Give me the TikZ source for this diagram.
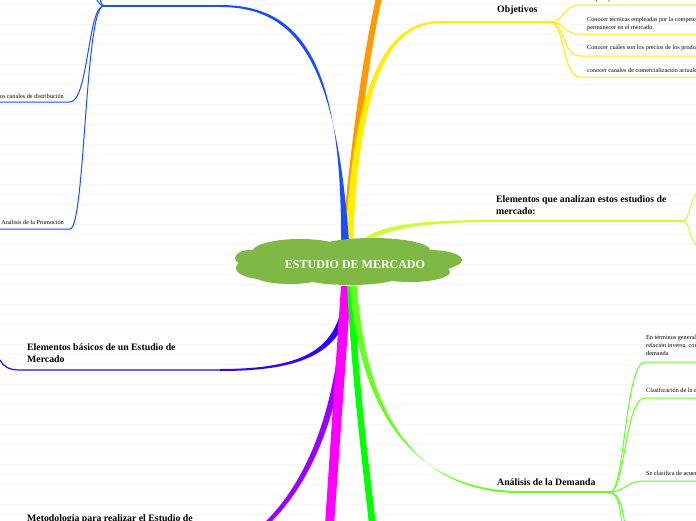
\documentclass[tikz,border=0pt]{standalone}
\usepackage{fontspec}
\setmainfont{Liberation Serif}
\definecolor{cloudc}{HTML}{7FB845}
\definecolor{orn}{HTML}{FF9900}
\definecolor{yel}{HTML}{FFEE00}
\definecolor{blu}{HTML}{1A4DFF}
\definecolor{lim}{HTML}{CCFF33}
\definecolor{bvi}{HTML}{3300FF}
\definecolor{pur}{HTML}{9900FF}
\definecolor{mag}{HTML}{FF00FF}
\definecolor{grn}{HTML}{00FF00}
\definecolor{lgr}{HTML}{66FF22}
\begin{document}
\begin{tikzpicture}[x=1pt,y=-1pt,
  big/.style={font=\bfseries\fontsize{9.8}{12}\selectfont,anchor=west,align=left,inner sep=0pt},
  small/.style={font=\fontsize{6.2}{8}\selectfont,anchor=west,align=left,inner sep=0pt},
  sub/.style={line width=1pt}]
\useasboundingbox (0,0) rectangle (696,520);
\clip (0,0) rectangle (696,520);
\fill[white] (0,0) rectangle (696,520);
\foreach \y in {4,14,...,520} \draw[black!3,line width=0.5pt] (0,\y) -- (696,\y);
% coordinates
\coordinate (yj) at (550,22);
\coordinate (bj) at (103,6);
\coordinate (gj) at (610,492);
\coordinate (lj) at (683,221);
% main tapered branches
\fill[orn] (342,242) .. controls (350,150) and (362,60) .. (376,-2) -- (382,-2) .. controls (368,60) and (357,150) .. (351,242) -- cycle;
\fill[yel] (345,242) .. controls (352,120) and (372,21) .. (440,21) -- (440,23) .. controls (376,23) and (358,120) .. (353,242) -- cycle;
\draw[yel,line width=1.5pt] (440,22) -- (yj);
\fill[blu] (341,242) .. controls (342,60) and (300,5) .. (220,5) -- (220,7) .. controls (296,7) and (336,60) .. (349,242) -- cycle;
\draw[blu,line width=1.5pt] (220,6) -- (bj);
\fill[lim] (362,240) .. controls (380,225) and (420,220) .. (490,220) -- (490,222) .. controls (420,222) and (385,230) .. (366,242) -- cycle;
\draw[lim,line width=1.5pt] (490,221) -- (lj);
\fill[bvi] (345,286) .. controls (340,340) and (320,369) .. (220,369) -- (220,371) .. controls (318,371) and (348,345) .. (353,286) -- cycle;
\draw[bvi,line width=1.2pt] (220,370) -- (20,370) .. controls (8,370) and (3,366) .. (0,360);
\fill[pur] (343,286) .. controls (340,400) and (310,480) .. (262,525) -- (268,525) .. controls (315,480) and (347,400) .. (350,286) -- cycle;
\fill[mag] (341,286) -- (351,286) -- (334,525) -- (325,525) -- cycle;
\fill[grn] (347,286) .. controls (352,380) and (362,460) .. (369,525) -- (376,525) .. controls (368,460) and (358,380) .. (354,286) -- cycle;
\fill[lgr] (350,286) .. controls (360,420) and (420,491) .. (520,491) -- (520,493) .. controls (420,493) and (366,420) .. (357,286) -- cycle;
\draw[lgr,line width=1.5pt] (520,492) -- (gj);
% cloud
\begin{scope}[fill=cloudc]
\fill (348,264) ellipse (108 and 13);
\fill (300,252) ellipse (48 and 13);
\fill (372,250) ellipse (58 and 12);
\fill (262,268) ellipse (26 and 11);
\fill (290,274) ellipse (38 and 10);
\fill (350,276) ellipse (50 and 9);
\fill (410,272) ellipse (40 and 10);
\fill (430,260) ellipse (32 and 10);
\fill (250,258) ellipse (15 and 8);
\end{scope}
\node[font=\bfseries\fontsize{12}{14}\selectfont,text=white] (root) at (355,265) {ESTUDIO DE MERCADO};
% labels
\node[big] (obj) at (497,10) {Objetivos};
\node[big] (ela) at (496,205) {Elementos que analizan estos estudios de\\mercado:};
\node[big] (ad) at (497,482) {Análisis de la Demanda};
\node[big] (eb) at (27,353) {Elementos básicos de un Estudio de\\Mercado};
\node[big] (met) at (27,519) {Metodologia para realizar el Estudio de};
% yellow subs
\foreach \yy in {5,34,56,77} \draw[yel,sub] (yj) .. controls (565,22) and (562,\yy) .. (580,\yy) -- (700,\yy);
\node[small] at (587,-1) {adoptan por los consumidores};
\node[small] (s1) at (587,24) {Conocer técnicas empleadas por la competencia para\\permanecer en el mercado.};
\node[small] (s2) at (587,48) {Conocer cuáles son los precios de los productos};
\node[small] (s3) at (587,70) {conocer canales de comercialización actuales};
% blue subs
\draw[blu,sub] (bj) .. controls (88,8) and (88,102) .. (70,102) -- (-5,102);
\draw[blu,sub] (bj) .. controls (85,10) and (85,229) .. (70,229) -- (-5,229);
\draw[blu,sub] (bj) .. controls (98,4) and (96,-2) .. (94,-6);
\draw[blu,sub] (bj) .. controls (100,2) and (100,-2) .. (99,-6);
\node[small,anchor=east] (b1) at (64,96) {Análisis de los canales de distribución};
\node[small,anchor=east] (b2) at (64,222) {Análisis de la Promoción};
% lime subs
\draw[lim,sub] (lj) .. controls (690,221) and (690,195) .. (700,190);
\draw[lim,sub] (lj) .. controls (690,221) and (690,245) .. (700,248);
% green subs
\foreach \yy in {362,398,481} \draw[lgr,sub] (gj) .. controls (625,492) and (625,\yy) .. (645,\yy) -- (700,\yy);
\draw[lgr,sub] (gj) .. controls (618,495) and (620,505) .. (622,525);
\draw[lgr,sub] (gj) .. controls (619,494) and (622,505) .. (625,525);
\node[small] (g1) at (646,345) {En términos generales, la\\relación inversa, con la\\demanda};
\node[small] (g2) at (646,390) {Clasificación de la demanda};
\node[small] (g3) at (646,473) {Se clasifica de acuerdo};
\end{tikzpicture}
\end{document}
